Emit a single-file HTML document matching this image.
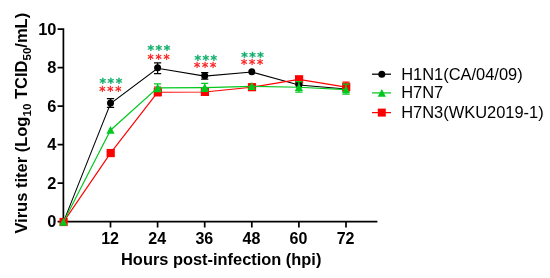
<!DOCTYPE html>
<html lang="en"><head><meta charset="utf-8"><title>Virus titer</title>
<style>html,body{margin:0;padding:0;background:#fff;overflow:hidden}svg{display:block}</style></head>
<body>
<svg width="550" height="278" viewBox="0 0 550 278">
<rect width="550" height="278" fill="#fff"/>
<path d="M63.4 28.25V221.7H377.4M63.4 221.7H57.6M63.4 183.18H57.6M63.4 144.66H57.6M63.4 106.14H57.6M63.4 67.62H57.6M63.4 29.1H57.6M110.5 221.7V227.5M157.6 221.7V227.5M204.7 221.7V227.5M251.8 221.7V227.5M298.9 221.7V227.5M346 221.7V227.5" stroke="#000" stroke-width="1.7" fill="none"/>
<g font-family="'Liberation Sans', sans-serif" font-weight="bold" font-size="16.4" fill="#000">
<text x="56.4" y="227" text-anchor="end">0</text>
<text x="56.4" y="189" text-anchor="end">2</text>
<text x="56.4" y="150" text-anchor="end">4</text>
<text x="56.4" y="112" text-anchor="end">6</text>
<text x="56.4" y="73" text-anchor="end">8</text>
<text x="56.4" y="35" text-anchor="end">10</text>
<text x="110.1" y="244" text-anchor="middle" font-size="16">12</text>
<text x="157.2" y="244" text-anchor="middle" font-size="16">24</text>
<text x="204.3" y="244" text-anchor="middle" font-size="16">36</text>
<text x="251.4" y="244" text-anchor="middle" font-size="16">48</text>
<text x="298.5" y="244" text-anchor="middle" font-size="16">60</text>
<text x="345.6" y="244" text-anchor="middle" font-size="16">72</text>
<text x="221.2" y="265.3" text-anchor="middle">Hours post-infection (hpi)</text>
<text transform="translate(26.8 123.2) rotate(-90)" text-anchor="middle" font-size="16.5">Virus titer (Log<tspan font-size="11.6" dy="4">10</tspan><tspan dy="-4"> TCID</tspan><tspan font-size="11.6" dy="4">50</tspan><tspan dy="-4">/mL)</tspan></text>
</g>
<polyline transform="translate(0 0.4)" points="63.4,221.7 110.5,103.06 157.6,67.81 204.7,75.71 251.8,71.66 298.9,84.57 346,88.61" fill="none" stroke="#000" stroke-width="1.05"/>
<circle cx="63.4" cy="221.7" r="3.5" fill="#000"/>
<path d="M110.5 98.63V107.49M106.9 98.63H114.1M106.9 107.49H114.1" stroke="#000" stroke-width="1.25" fill="none"/>
<circle cx="110.5" cy="103.06" r="3.5" fill="#000"/>
<path d="M157.6 62.9V73.59M154 62.9H161.2M154 73.59H161.2" stroke="#000" stroke-width="1.25" fill="none"/>
<circle cx="157.6" cy="67.81" r="3.5" fill="#000"/>
<path d="M204.7 72.63V79.18M201.1 72.63H208.3M201.1 79.18H208.3" stroke="#000" stroke-width="1.25" fill="none"/>
<circle cx="204.7" cy="75.71" r="3.5" fill="#000"/>
<circle cx="251.8" cy="71.66" r="3.5" fill="#000"/>
<circle cx="298.9" cy="84.57" r="3.5" fill="#000"/>
<circle cx="346" cy="88.61" r="3.5" fill="#000"/>
<polyline transform="translate(0 0.4)" points="63.4,221.7 110.5,152.75 157.6,91.89 204.7,91.6 251.8,86.88 298.9,78.98 346,86.69" fill="none" stroke="#ff0000" stroke-width="1.15"/>
<rect x="59.5" y="217.9" width="8.2" height="8.2" fill="#ff0000"/>
<rect x="106.6" y="148.95" width="8.2" height="8.2" fill="#ff0000"/>
<path d="M157.6 87.07V95.74M154 87.07H161.2M154 95.74H161.2" stroke="#ff0000" stroke-width="1.25" fill="none"/>
<rect x="153.7" y="88.09" width="8.2" height="8.2" fill="#ff0000"/>
<rect x="200.8" y="87.8" width="8.2" height="8.2" fill="#ff0000"/>
<rect x="247.9" y="83.08" width="8.2" height="8.2" fill="#ff0000"/>
<rect x="295" y="75.18" width="8.2" height="8.2" fill="#ff0000"/>
<path d="M346 82.16V91.21M342.4 82.16H349.6M342.4 91.21H349.6" stroke="#ff0000" stroke-width="1.25" fill="none"/>
<rect x="342.1" y="82.89" width="8.2" height="8.2" fill="#ff0000"/>
<circle cx="298.9" cy="84.57" r="3.5" fill="#000"/>
<polyline transform="translate(0 0.4)" points="63.4,221.7 110.5,129.83 157.6,87.46 204.7,87.17 251.8,85.92 298.9,86.88 346,89.19" fill="none" stroke="#00c81e" stroke-width="1.15"/>
<path d="M63.4 217.9L67.5 225.7H59.3Z" fill="#00c81e"/>
<path d="M110.5 126.03L114.6 133.83H106.4Z" fill="#00c81e"/>
<path d="M157.6 83.8V91.69M154 83.8H161.2M154 91.69H161.2" stroke="#00c81e" stroke-width="1.25" fill="none"/>
<path d="M157.6 83.66L161.7 91.46H153.5Z" fill="#00c81e"/>
<path d="M204.7 83.32V91.41M201.1 83.32H208.3M201.1 91.41H208.3" stroke="#00c81e" stroke-width="1.25" fill="none"/>
<path d="M204.7 83.37L208.8 91.17H200.6Z" fill="#00c81e"/>
<path d="M251.8 82.12L255.9 89.92H247.7Z" fill="#00c81e"/>
<path d="M298.9 81.68V92.08M295.3 81.68H302.5M295.3 92.08H302.5" stroke="#00c81e" stroke-width="1.25" fill="none"/>
<path d="M298.9 83.08L303 90.88H294.8Z" fill="#00c81e"/>
<path d="M346 84.18V94.2M342.4 84.18H349.6M342.4 94.2H349.6" stroke="#00c81e" stroke-width="1.25" fill="none"/>
<path d="M346 85.39L350.1 93.19H341.9Z" fill="#00c81e"/>
<g font-family="'DejaVu Sans', sans-serif" stroke-width="0.35">
<text x="99.58" y="87" font-size="12.5" font-weight="bold" letter-spacing="1.51" fill="#17b06f" stroke="#17b06f">***</text>
<text x="99.3" y="95" font-size="12.4" letter-spacing="1.8" fill="#ff1a1a" stroke="#ff1a1a">***</text>
<text x="147.58" y="54" font-size="12.5" font-weight="bold" letter-spacing="1.51" fill="#17b06f" stroke="#17b06f">***</text>
<text x="147.4" y="63" font-size="12.4" letter-spacing="1.8" fill="#ff1a1a" stroke="#ff1a1a">***</text>
<text x="194.38" y="64" font-size="12.5" font-weight="bold" letter-spacing="1.51" fill="#17b06f" stroke="#17b06f">***</text>
<text x="193.9" y="71" font-size="12.4" letter-spacing="1.8" fill="#ff1a1a" stroke="#ff1a1a">***</text>
<text x="241.28" y="61" font-size="12.5" font-weight="bold" letter-spacing="1.51" fill="#17b06f" stroke="#17b06f">***</text>
<text x="240.9" y="68" font-size="12.4" letter-spacing="1.8" fill="#ff1a1a" stroke="#ff1a1a">***</text>
</g>
<g font-family="'Liberation Sans', sans-serif" font-size="16.45" fill="#000">
<path d="M372 74.2H391" stroke="#000" stroke-width="1.25"/>
<circle cx="381.8" cy="74.2" r="3.5" fill="#000"/>
<text x="401.2" y="80">H1N1(CA/04/09)</text>
<path d="M372 92.9H391" stroke="#00c81e" stroke-width="1.25"/>
<path d="M381.8 89.1L385.9 96.7H377.7Z" fill="#00c81e"/>
<text x="401.2" y="98">H7N7</text>
<path d="M372 112.6H391" stroke="#ff0000" stroke-width="1.25"/>
<rect x="377.8" y="108.6" width="8" height="8" fill="#ff0000"/>
<text x="401.2" y="118">H7N3(WKU2019-1)</text>
</g>
</svg>
</body></html>
